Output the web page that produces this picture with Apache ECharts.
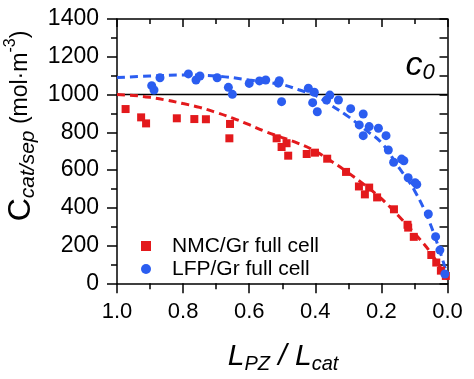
<!DOCTYPE html>
<html>
<head>
<meta charset="utf-8">
<script src="https://cdn.jsdelivr.net/npm/echarts@6/dist/echarts.min.js"></script>
<style>
html,body{margin:0;padding:0;background:#fff;}
#c{width:474px;height:379px;}
</style>
</head>
<body>
<div id="c"></div>
<script>
// ---- data ----
const nmcPoints = [
  [0.974,923],[0.927,879],[0.912,847],[0.819,874],[0.766,870],[0.731,869],
  [0.658,844],[0.660,768],[0.517,768],[0.487,742],[0.502,722],[0.482,676],
  [0.426,685],[0.401,692],[0.364,660],[0.307,590],[0.268,513],[0.237,507],
  [0.250,471],[0.213,455],[0.162,392],[0.121,310],[0.119,295],[0.102,246],
  [0.049,150],[0.034,110],[0.020,67],[0.005,39]
];
const lfpPoints = [
  [0.895,1047],[0.888,1024],[0.870,1089],[0.784,1109],[0.761,1077],[0.749,1098],
  [0.697,1089],[0.663,1038],[0.651,1001],[0.600,1059],[0.569,1072],[0.550,1077],
  [0.509,1073],[0.512,1060],[0.502,962],[0.421,1033],[0.403,1012],[0.408,957],
  [0.394,909],[0.356,997],[0.366,971],[0.330,971],[0.293,925],[0.255,897],
  [0.267,839],[0.237,830],[0.209,821],[0.255,782],[0.186,782],[0.179,706],
  [0.163,641],[0.139,658],[0.132,649],[0.119,559],[0.093,524],[0.098,533],
  [0.058,367],[0.036,247],[0.023,176],[0.008,49]
];
const nmcFit = [
  [1.0,1000],[0.95,995],[0.9,985],[0.85,970],[0.8,952],[0.75,932],[0.7,905],
  [0.65,875],[0.6,840],[0.55,803],[0.5,772],[0.45,740],[0.4,700],[0.35,645],
  [0.3,585],[0.25,520],[0.2,448],[0.15,360],[0.1,265],[0.05,160],[0.0,20]
];
const lfpFit = [
  [1.0,1090],[0.9,1098],[0.8,1103],[0.7,1098],[0.6,1077],[0.5,1052],[0.45,1025],
  [0.4,995],[0.35,940],[0.3,883],[0.25,815],[0.2,745],[0.15,620],[0.1,492],
  [0.05,305],[0.0,40]
];
const refLevel = [[1.0,1000],[0.0,1000]];
const xTickLabels = {0:'0.0',0.2:'0.2',0.4:'0.4',0.6:'0.6',0.8:'0.8',1:'1.0'};
const yTickLabels = ['0','200','400','600','800','1000','1200','1400'];
const seriesNames = ['NMC/Gr full cell','LFP/Gr full cell'];

const RED = '#e3191c';
const BLUE = '#2b5df0';
const FONT = '"Liberation Sans", Arial, sans-serif';

const chart = echarts.init(document.getElementById('c'), null, {renderer:'canvas'});

const baseX = {
  type:'value', min:0, max:1, interval:0.2, inverse:true,
  axisLine:{show:true, onZero:false, lineStyle:{color:'#000', width:1.5}},
  splitLine:{show:false}
};
const baseY = {
  type:'value', min:0, max:1400, interval:200,
  axisLine:{show:true, onZero:false, lineStyle:{color:'#000', width:1.5}},
  splitLine:{show:false}
};

chart.setOption({
  animation:false,
  backgroundColor:'#fff',
  grid:{left:117, right:26.5, top:19, bottom:95.7, containLabel:false},
  xAxis:[
    Object.assign({}, baseX, {
      position:'bottom',
      axisTick:{show:true, inside:false, length:10, lineStyle:{color:'#000', width:1.5}},
      minorTick:{show:true, splitNumber:2, length:6, lineStyle:{color:'#000', width:1.5}},
      axisLabel:{color:'#000', fontSize:22, fontFamily:FONT, margin:18,
        formatter:function(v){ const k = Math.round(v*10)/10; return xTickLabels[k] !== undefined ? xTickLabels[k] : ''; }}
    }),
    Object.assign({}, baseX, {
      position:'top',
      axisTick:{show:true, inside:true, length:8, lineStyle:{color:'#000', width:1.5}},
      minorTick:{show:true, splitNumber:2, length:5, lineStyle:{color:'#000', width:1.5}},
      axisLabel:{show:false}
    })
  ],
  yAxis:[
    Object.assign({}, baseY, {
      position:'left',
      axisTick:{show:true, inside:false, length:10, lineStyle:{color:'#000', width:1.5}},
      minorTick:{show:true, splitNumber:2, length:6, lineStyle:{color:'#000', width:1.5}},
      axisLabel:{color:'#000', fontSize:23, fontFamily:FONT, margin:18,
        formatter:function(v){ return yTickLabels[Math.round(v/200)]; }}
    }),
    Object.assign({}, baseY, {
      position:'right',
      axisTick:{show:true, inside:true, length:8, lineStyle:{color:'#000', width:1.5}},
      minorTick:{show:true, splitNumber:2, length:8, lineStyle:{color:'#000', width:1.5}},
      axisLabel:{show:false}
    })
  ],
  legend:{
    orient:'vertical', left:136, top:230, itemWidth:10, itemHeight:10, itemGap:1,
    data:[{name:seriesNames[0], icon:'rect'},{name:seriesNames[1], icon:'circle'}],
    textStyle:{color:'#000', fontSize:21, lineHeight:22, fontFamily:FONT, padding:[0,0,0,16]},
    selectedMode:false
  },
  series:[
    {
      name:'c0', type:'line', data:refLevel, symbol:'none', silent:true, z:1,
      lineStyle:{color:'#000', width:1.3}
    },
    {
      name:'nmcFit', type:'line', data:nmcFit, smooth:0.4, symbol:'none', silent:true, z:2,
      lineStyle:{color:RED, width:3, type:[8,5]}
    },
    {
      name:'lfpFit', type:'line', data:lfpFit, smooth:0.4, symbol:'none', silent:true, z:2,
      lineStyle:{color:BLUE, width:3, type:[8,5]}
    },
    {
      name:seriesNames[0], type:'scatter', data:nmcPoints, symbol:'rect', symbolSize:8, z:3,
      itemStyle:{color:RED, opacity:1}
    },
    {
      name:seriesNames[1], type:'scatter', data:lfpPoints, symbol:'circle', symbolSize:9, z:3,
      itemStyle:{color:BLUE, opacity:1}
    }
  ],
  graphic:[
    {
      type:'text', x:420, y:66,
      style:{
        text:'{c|c}{s|0}', align:'center', verticalAlign:'middle',
        rich:{
          c:{fontSize:34, fontStyle:'italic', fontFamily:FONT, fill:'#000', lineHeight:36},
          s:{fontSize:22, fontStyle:'italic', fontFamily:FONT, fill:'#000', lineHeight:22, verticalAlign:'bottom'}
        }
      }
    },
    {
      type:'text', x:283, y:357,
      style:{
        text:'{L|L}{s|PZ}{n| / }{L|L}{s|cat}', align:'center', verticalAlign:'middle',
        rich:{
          L:{fontSize:30, fontStyle:'italic', fontFamily:FONT, fill:'#000', lineHeight:34},
          n:{fontSize:30, fontStyle:'italic', fontFamily:FONT, fill:'#000', lineHeight:34},
          s:{fontSize:20, fontStyle:'italic', fontFamily:FONT, fill:'#000', lineHeight:20, verticalAlign:'bottom'}
        }
      }
    },
    {
      type:'text', x:21, y:126, rotation:Math.PI/2,
      style:{
        text:'{C|C}{s|cat/sep}{n| (mol·m}{p|-3}{n|)}', align:'center', verticalAlign:'middle',
        rich:{
          C:{fontSize:32, fontFamily:FONT, fill:'#000', lineHeight:36},
          n:{fontSize:23, fontFamily:FONT, fill:'#000', lineHeight:36},
          s:{fontSize:21, fontStyle:'italic', fontFamily:FONT, fill:'#000', lineHeight:22, verticalAlign:'bottom'},
          p:{fontSize:16, fontFamily:FONT, fill:'#000', lineHeight:17, verticalAlign:'top'}
        }
      }
    }
  ]
});
</script>
</body>
</html>
